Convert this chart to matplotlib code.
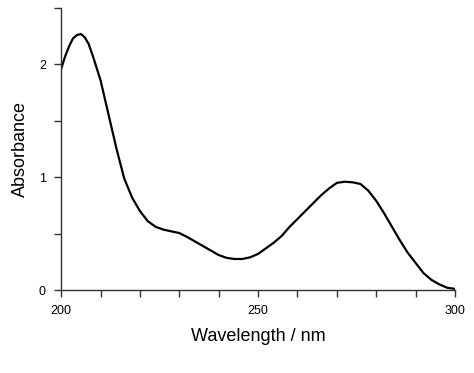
import matplotlib
matplotlib.use("Agg")
import matplotlib.pyplot as plt

wavelength = [200, 201, 202, 203, 204, 205, 206, 207, 208, 210, 212, 214, 216, 218, 220,
              222, 224, 226, 228, 230, 232, 234, 236, 238, 240, 242, 244, 246, 248, 250,
              252, 254, 256, 258, 260, 262, 264, 266, 268, 270, 272, 274, 276, 278, 280,
              282, 284, 286, 288, 290, 292, 294, 296, 298, 300]
absorbance = [1.96, 2.07, 2.16, 2.23, 2.26, 2.27, 2.24, 2.18, 2.08, 1.86, 1.56, 1.26, 0.99, 0.82, 0.70,
              0.61, 0.56, 0.535, 0.52, 0.505, 0.47, 0.43, 0.39, 0.35, 0.31, 0.285, 0.275, 0.275, 0.29, 0.32,
              0.37, 0.42, 0.48, 0.56, 0.63, 0.70, 0.77, 0.84, 0.90, 0.95, 0.96, 0.955, 0.94, 0.88, 0.79,
              0.68, 0.56, 0.44, 0.33, 0.24, 0.15, 0.09, 0.05, 0.02, 0.01]

x_ticks = [200, 210, 220, 230, 240, 250, 260, 270, 280, 290, 300]
x_labels = ["200", "", "", "", "", "250", "", "", "", "", "300"]
y_ticks = [0, 0.5, 1, 1.5, 2, 2.5]
y_labels = ["0", "", "1", "", "2", ""]

plt.rcParams['font.family'] = ['Liberation Sans', 'DejaVu Sans']

fig = plt.figure(figsize=(4.74, 3.73), dpi=100)
ax = fig.add_axes([0.129, 0.2225, 0.831, 0.756])
ax.plot(wavelength, absorbance, color='black', lw=1.6)
ax.set_xlim(200, 300)
ax.set_ylim(0, 2.5)
ax.set_xticks(x_ticks)
ax.set_xticklabels(x_labels)
ax.set_yticks(y_ticks)
ax.set_yticklabels(y_labels)
for s in ['top', 'right']:
    ax.spines[s].set_visible(False)
for s in ['left', 'bottom']:
    ax.spines[s].set_linewidth(1.0)
    ax.spines[s].set_color('#333333')
ax.tick_params(direction='out', length=5, width=1.0, color='#333333', labelsize=9, pad=6)
ax.set_xlabel('Wavelength / nm', fontsize=13, labelpad=8)
ax.set_ylabel('Absorbance', fontsize=13, labelpad=7)
fig.savefig('out.png', dpi=100)
